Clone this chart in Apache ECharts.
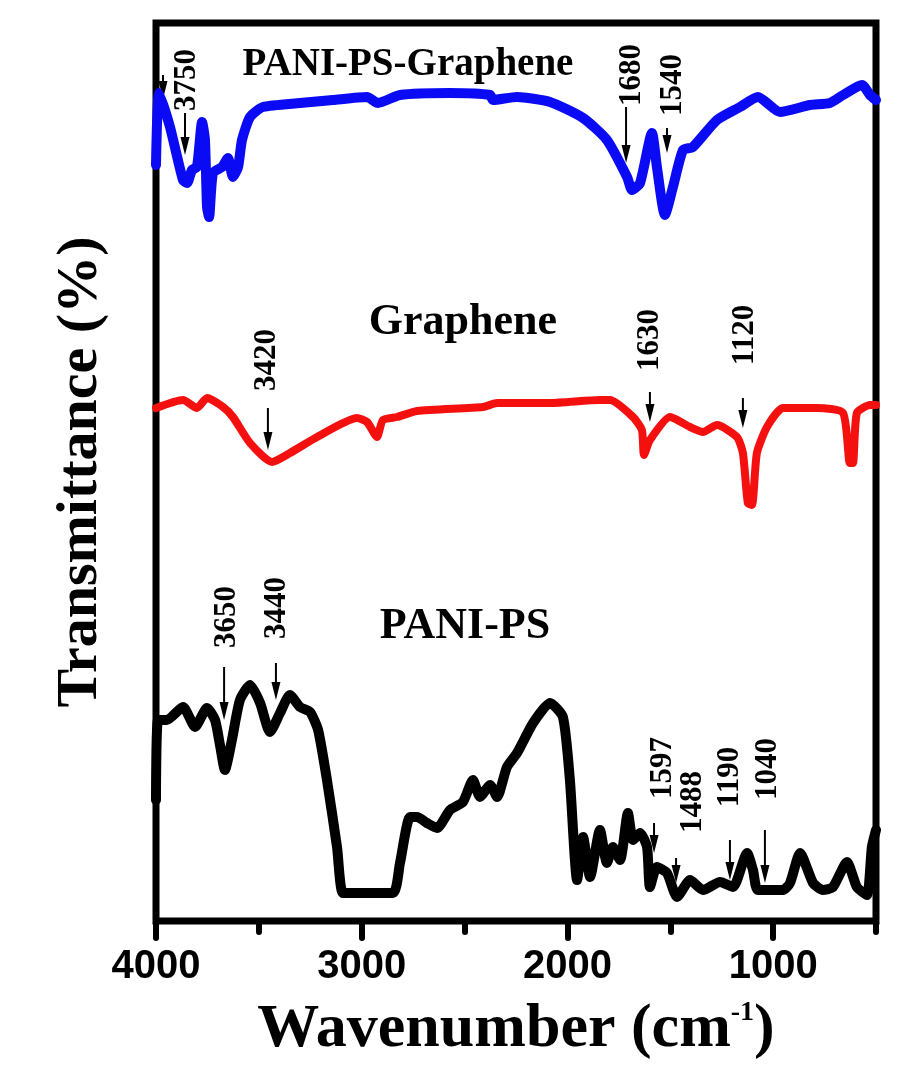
<!DOCTYPE html>
<html>
<head>
<meta charset="utf-8">
<script src="https://cdn.jsdelivr.net/npm/echarts@6/dist/echarts.min.js"></script>
<style>
  html, body { margin: 0; padding: 0; background: #fff; }
  #chart { width: 898px; height: 1069px; }
</style>
</head>
<body>
<div id="chart"></div>
<script>
// FTIR spectra, transmittance in arbitrary (offset) units
const wnBlue = [4000, 3985, 3932, 3869, 3849, 3825, 3801, 3776, 3762, 3752, 3742, 3723, 3679, 3650, 3626, 3601, 3582, 3543, 3480, 3300, 3140, 2974, 2921, 2814, 2571, 2376, 2362, 2245, 2085, 1924, 1808, 1710, 1686, 1647, 1589, 1565, 1526, 1487, 1438, 1390, 1273, 1161, 1074, 967, 821, 724, 660, 568, 529, 500]
const tBlue = [756, 828, 794, 741, 738, 751, 754, 799, 781, 714, 704, 748, 754, 763, 744, 754, 781, 804, 814, 818, 821, 824, 818, 826, 828, 826, 821, 824, 819, 803, 781, 744, 731, 738, 788, 754, 706, 734, 771, 774, 801, 814, 824, 809, 816, 818, 826, 836, 826, 821]

const wnRed = [4000, 3869, 3801, 3752, 3674, 3626, 3543, 3436, 3349, 3217, 3023, 2974, 2926, 2897, 2828, 2731, 2410, 2342, 2085, 1842, 1793, 1681, 1638, 1628, 1599, 1501, 1404, 1341, 1273, 1176, 1147, 1123, 1103, 1079, 1030, 952, 787, 660, 627, 612, 593, 529, 500]
const tRed = [513, 521, 513, 523, 514, 504, 478, 459, 468, 484, 503, 499, 484, 501, 504, 510, 514, 518, 518, 521, 521, 504, 491, 466, 481, 504, 494, 489, 496, 484, 468, 418, 416, 468, 494, 513, 513, 508, 458, 458, 508, 516, 516]

const wnBlack = [4000, 3990, 3947, 3869, 3810, 3752, 3713, 3689, 3665, 3631, 3592, 3543, 3494, 3446, 3397, 3349, 3300, 3251, 3212, 3169, 3120, 3091, 3023, 2848, 2814, 2765, 2731, 2683, 2634, 2571, 2508, 2459, 2425, 2376, 2342, 2294, 2245, 2167, 2085, 2022, 1988, 1953, 1924, 1890, 1842, 1808, 1779, 1744, 1706, 1681, 1647, 1613, 1599, 1565, 1516, 1467, 1404, 1341, 1258, 1195, 1127, 1098, 1074, 952, 918, 869, 806, 758, 709, 641, 593, 544, 520, 500]
const tBlack = [121, 201, 201, 214, 194, 213, 201, 176, 151, 181, 221, 236, 218, 189, 208, 226, 214, 209, 191, 141, 74, 28, 28, 28, 58, 104, 104, 98, 93, 111, 119, 141, 124, 136, 124, 154, 168, 198, 218, 204, 141, 41, 84, 44, 91, 58, 74, 61, 108, 81, 88, 74, 34, 54, 48, 24, 41, 31, 39, 34, 68, 51, 31, 31, 38, 68, 38, 31, 34, 59, 34, 26, 74, 91]

// sample names
const sampleNames = ['PANI-PS-Graphene', 'Graphene', 'PANI-PS']
const sampleNameWn = [2775, 2508, 2498]
const sampleNameT = [856, 598, 294]

// peak annotations: label text and label position
const peakText = ['3750', '1680', '1540', '3420', '1630', '1120', '3650', '3440', '1597', '1488', '1190', '1040']
const peakLabelWn = [3849, 1686, 1487, 3460, 1599, 1137, 3655, 3412, 1535, 1390, 1210, 1025]
const peakLabelT = [841, 846, 836, 561, 581, 586, 304, 313, 153, 119, 144, 152]
// arrows: wavenumber, tail, tip
const arrowWn = [3966, 3859, 1715, 1516, 3456, 1599, 1147, 3669, 3417, 1579, 1472, 1210, 1040]
const arrowTop = [846, 808, 814, 793, 513, 529, 523, 254, 258, 98, 63, 81, 91]
const arrowTip = [822, 766, 758, 768, 471, 499, 493, 201, 221, 68, 38, 41, 38]

const xLabels = [1000, 2000, 3000, 4000]
const xMinorTicks = [500, 1500, 2500, 3500]

const zip = (xs, ys) => xs.map((x, i) => [x, ys[i]])

const serif = 'Liberation Serif'

function spectrum (name, xs, ys, color, width) {
  return {
    name: name,
    type: 'line',
    data: zip(xs, ys),
    showSymbol: false,
    silent: true,
    smooth: 0.2,
    lineStyle: { color: color, width: width, cap: 'round', join: 'round' }
  }
}

function textSeries (name, texts, xs, ys, fontSize, rotate) {
  return {
    name: name,
    type: 'custom',
    silent: true,
    data: zip(xs, ys),
    renderItem: (params, api) => {
      const p = api.coord([api.value(0), api.value(1)])
      return {
        type: 'text',
        x: p[0],
        y: p[1],
        rotation: rotate ? Math.PI / 2 : 0,
        style: {
          text: texts[params.dataIndex],
          fill: '#000',
          font: 'bold ' + fontSize + 'px "' + serif + '"',
          align: 'center',
          verticalAlign: 'middle'
        }
      }
    }
  }
}

const chart = echarts.init(document.getElementById('chart'))

const option = {
  animation: false,
  grid: {
    left: 156,
    right: 22,
    top: 23,
    bottom: 148,
    show: true,
    borderColor: '#000',
    borderWidth: 7
  },
  xAxis: [
    {
      type: 'value',
      min: 500,
      max: 4000,
      inverse: true,
      position: 'bottom',
      splitLine: { show: false },
      axisLine: { show: false },
      axisTick: {
        show: true,
        customValues: xLabels,
        length: 17,
        lineStyle: { color: '#000', width: 6, cap: 'round' }
      },
      axisLabel: {
        customValues: xLabels,
        formatter: v => String(v),
        margin: 26,
        color: '#000',
        fontFamily: 'Liberation Sans',
        fontWeight: 'bold',
        fontSize: 40
      },
      name: '{a|Wavenumber (cm}{b|-1}{a|)}',
      nameLocation: 'middle',
      nameGap: 78,
      nameTextStyle: {
        rich: {
          a: { fontFamily: serif, fontWeight: 'bold', fontSize: 62, color: '#000' },
          b: { fontFamily: serif, fontWeight: 'bold', fontSize: 28, color: '#000', verticalAlign: 'top', padding: [0, 0, 20, 0] }
        }
      }
    },
    {
      type: 'value',
      min: 500,
      max: 4000,
      inverse: true,
      position: 'bottom',
      splitLine: { show: false },
      axisLine: { show: false },
      axisLabel: { show: false },
      axisTick: {
        show: true,
        customValues: xMinorTicks,
        length: 11,
        lineStyle: { color: '#000', width: 6, cap: 'round' }
      }
    }
  ],
  yAxis: {
    type: 'value',
    min: 0,
    max: 898,
    axisLine: { show: false },
    axisTick: { show: false },
    axisLabel: { show: false },
    splitLine: { show: false },
    name: 'Transmittance (%)',
    nameLocation: 'middle',
    nameGap: 46,
    nameTextStyle: {
      fontFamily: serif,
      fontWeight: 'bold',
      fontSize: 58,
      color: '#000'
    }
  },
  series: [
    spectrum('PANI-PS-Graphene', wnBlue, tBlue, '#0a0af5', 10),
    spectrum('Graphene', wnRed, tRed, '#f51010', 8),
    spectrum('PANI-PS', wnBlack, tBlack, '#000', 10),
    textSeries('names-small', sampleNames.slice(0, 1), sampleNameWn.slice(0, 1), sampleNameT.slice(0, 1), 39, false),
    textSeries('names', sampleNames.slice(1), sampleNameWn.slice(1), sampleNameT.slice(1), 44, false),
    textSeries('peaks', peakText, peakLabelWn, peakLabelT, 31, true),
    {
      name: 'arrows',
      type: 'custom',
      silent: true,
      data: arrowWn.map((x, i) => [x, arrowTop[i], arrowTip[i]]),
      renderItem: (params, api) => {
        const top = api.coord([api.value(0), api.value(1)])
        const tip = api.coord([api.value(0), api.value(2)])
        const headLen = 18
        const headHalf = 4.5
        return {
          type: 'group',
          children: [
            {
              type: 'line',
              shape: { x1: top[0], y1: top[1], x2: tip[0], y2: tip[1] - headLen + 2 },
              style: { stroke: '#000', lineWidth: 2 }
            },
            {
              type: 'polygon',
              shape: { points: [[tip[0] - headHalf, tip[1] - headLen], [tip[0] + headHalf, tip[1] - headLen], [tip[0], tip[1]]] },
              style: { fill: '#000' }
            }
          ]
        }
      }
    }
  ]
}

chart.setOption(option)
</script>
</body>
</html>
